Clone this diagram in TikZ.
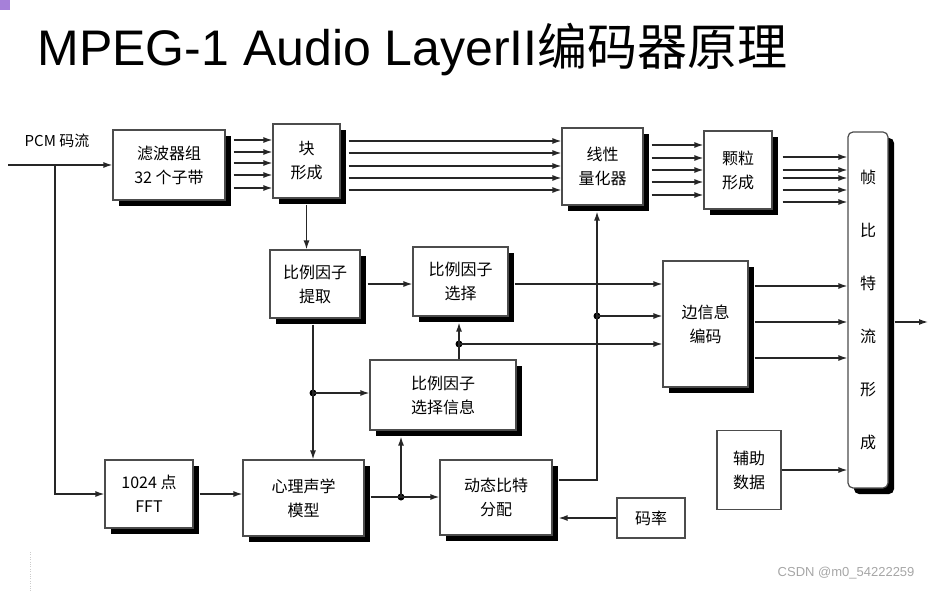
\documentclass[tikz,border=0pt]{standalone}
\usepackage{fontspec}
\setmainfont{Liberation Sans}
\newfontfamily\cjk{Noto Sans CJK SC}
\usetikzlibrary{arrows.meta,shadows,calc}
\begin{document}
\begin{tikzpicture}[x=1pt,y=-1pt,
  bx/.style={draw=black!70,line width=1.2pt,fill=white,font=\cjk\fontsize{16}{24}\selectfont,align=center,inner sep=0pt,
    drop shadow={shadow xshift=6pt,shadow yshift=-6pt,opacity=1,fill=black}},
  ar/.style={draw=black!85,line width=1.3pt,-{Latex[length=9pt,width=6pt]}},
  dot/.style={circle,fill=black,inner sep=0pt,minimum size=7pt}]
\useasboundingbox (0,0) rectangle (932,591);
\fill[blue!40!violet!50] (0,0) rectangle (10,10);
\node[anchor=west,font=\fontsize{50}{56}\selectfont] (title) at (34,50) {MPEG-1 Audio LayerII{\cjk 编码器原理}};
\newcommand\mkbox[6]{\node[bx,minimum width=#4-#2,minimum height=#5-#3] (#1) at ({(#2+#4)/2},{(#3+#5)/2}) {#6};}
\mkbox{filt}{113}{130}{225}{200}{滤波器组\\32 个子带}
\mkbox{blk}{273}{124}{340}{198}{块\\形成}
\mkbox{quant}{562}{128}{643}{205}{线性\\量化器}
\mkbox{gran}{704}{131}{772}{209}{颗粒\\形成}
\node[bx,rounded corners=5pt,minimum width=40,minimum height=356] (frame) at (868,310) {帧\\[29pt]比\\[29pt]特\\[29pt]流\\[29pt]形\\[29pt]成};
\mkbox{sext}{270}{250}{360}{318}{比例因子\\提取}
\mkbox{ssel}{413}{247}{508}{316}{比例因子\\选择}
\mkbox{sinfo}{370}{360}{516}{430}{比例因子\\选择信息}
\mkbox{side}{663}{261}{748}{387}{边信息\\编码}
\mkbox{fft}{105}{460}{193}{528}{1024 点\\FFT}
\mkbox{psy}{243}{460}{364}{536}{心理声学\\模型}
\mkbox{dyn}{440}{460}{552}{535}{动态比特\\分配}
\node[draw=black!70,line width=1.2pt,font=\cjk\fontsize{16}{24}\selectfont,minimum width=68,minimum height=40,inner sep=0pt] (rate) at (651,518) {码率};
\node[draw=black!70,line width=1.2pt,font=\cjk\fontsize{16}{24}\selectfont,align=center,minimum width=64,minimum height=79,inner sep=0pt] (aux) at (749,470) {辅助\\数据};
\node[font=\cjk\fontsize{15}{17}\selectfont] (pcm) at (57,141) {PCM 码流};
\coordinate (in) at (8,165);
\draw[ar] (in) -- (filt.west |- in);
\coordinate (br) at (55,165);
\draw[ar] (br) |- (fft.west);
\foreach \y in {140,152,163,175,188} \draw[ar] ($(filt.east |- 0,\y)+(8,0)$) -- (blk.west |- 0,\y);
\foreach \y in {141,153,166,178,190} \draw[ar] ($(blk.east |- 0,\y)+(8,0)$) -- (quant.west |- 0,\y);
\foreach \y in {145,158,170,182,195} \draw[ar] ($(quant.east |- 0,\y)+(8,0)$) -- (gran.west |- 0,\y);
\foreach \y in {157,170,178,190,202} \draw[ar] ($(gran.east |- 0,\y)+(10,0)$) -- (frame.west |- 0,\y);
\draw[ar] ($(blk.south)+(0,6)$) -- (sext.north -| blk.south);
\draw[ar] ($(sext.east)+(7,0)$) -- (ssel.west |- sext.east);
\node[dot] (d1) at (313,393) {};
\draw[ar] ($(sext.south -| d1)+(0,6)$) -- (psy.north -| d1);
\draw[ar] (d1.center) -- (sinfo.west |- d1);
\draw[ar] ($(fft.east)+(6,0)$) -- (psy.west |- fft.east);
\node[dot] (d2) at (401,497) {};
\draw[ar] ($(psy.east |- d2)+(6,0)$) -- (dyn.west |- d2);
\draw[ar] (d2.center) -- ($(sinfo.south -| d2)+(0,6)$);
\node[dot] (d3) at (597,316) {};
\draw[ar] ($(dyn.east |- 0,480)+(6,0)$) -| ($(quant.south -| d3)+(0,6)$);
\draw[ar] (d3.center) -- (side.west |- d3);
\draw[ar] ($(ssel.east |- 0,284)+(6,0)$) -- (side.west |- 0,284);
\node[dot] (d4) at (459,344) {};
\draw[ar] (sinfo.north -| d4) -- ($(ssel.south -| d4)+(0,6)$);
\draw[ar] (d4.center) -- (side.west |- d4);
\foreach \y in {286,322,358} \draw[ar] ($(side.east |- 0,\y)+(6,0)$) -- (frame.west |- 0,\y);
\draw[ar] (aux.east) -- (frame.west |- aux.east);
\draw[ar] (rate.west) -- ($(dyn.east |- rate.west)+(6,0)$);
\coordinate (out) at (928,322);
\draw[ar] ($(frame.east |- out)+(6,0)$) -- (out);
\draw[gray!40,dotted] (30,552) -- (30,591);
\node[anchor=east,text=gray!70,font=\fontsize{13}{15}\selectfont] (wm) at (918,573) {CSDN @m0\_54222259};
\end{tikzpicture}
\end{document}
